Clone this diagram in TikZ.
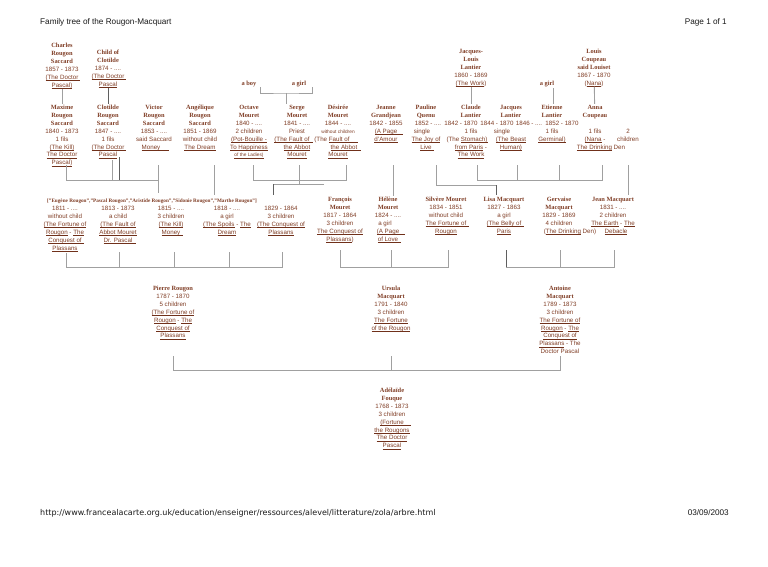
\documentclass[tikz,border=0pt]{standalone}
\usepackage{fontspec}
\setmainfont{Liberation Serif}
\setsansfont{Liberation Sans}
\newfontfamily\urlfont{DejaVu Sans}
\definecolor{tb}{RGB}{128,62,38}
\definecolor{ub}{RGB}{112,48,26}
\definecolor{lg}{RGB}{160,160,160}
\definecolor{dg}{RGB}{95,95,95}
\definecolor{hd}{RGB}{25,25,25}
\newcommand\nmx[1]{{\fontsize{6.4}{7.9}\selectfont\rmfamily\bfseries #1}}
\newcommand\smx[1]{{\fontsize{4.8}{7.9}\selectfont #1}}
\newcommand\ulx[2][0pt]{\setbox0=\hbox{#2}\rlap{\textcolor{ub}{\rule[-1.4pt]{\dimexpr\wd0+#1\relax}{0.6pt}}}\box0\relax}
\newcommand\shx[2]{\makebox[0pt][c]{\hspace*{#1}#2\hspace*{-#1}}}
\newcommand\stx{\rule{0pt}{5.5pt}}
\begin{document}
\begin{tikzpicture}[x=1pt,y=-1pt,
  p/.style={anchor=north,align=center,inner sep=0pt,text=tb,font=\fontsize{6.2}{7.9}\selectfont\sffamily},
  hdr/.style={inner sep=0pt,text=hd,font=\fontsize{8.2}{10}\selectfont\sffamily},
  ln/.style={draw=lg,line width=0.9pt},
  lnd/.style={draw=dg,line width=0.9pt}]
\useasboundingbox[fill=white] (0,0) rectangle (768,566);

% header / footer
\node[hdr,anchor=west] (title) at (40,22) {Family tree of the Rougon-Macquart};
\node[hdr,anchor=east] (page) at (727,22) {Page 1 of 1};
\node[hdr,anchor=west,font=\fontsize{8}{10}\selectfont\urlfont] (url) at (40,513) {http://www.francealacarte.org.uk/education/enseigner/ressources/alevel/litterature/zola/arbre.html};
\node[hdr,anchor=east] (date) at (729,513) {03/09/2003};

% row 1
\node[p] (charles) at (62,41.8) {\stx\nmx{Charles}\\\nmx{Rougon}\\\nmx{Saccard}\\1857 - 1873\\\ulx[2pt]{(The Doctor}\\\ulx{Pascal)}};
\node[p] (child) at (108,48.8) {\stx\nmx{Child of}\\\nmx{Clotilde}\\1874 - ....\\\ulx[2pt]{(The Doctor}\\\ulx{Pascal}};
\node[p] (aboy) at (249,79.8) {\stx\nmx{a boy}};
\node[p] (agirla) at (299,79.8) {\stx\nmx{a girl}};
\node[p] (jl) at (471,47.8) {\stx\nmx{Jacques-}\\\nmx{Louis}\\\nmx{Lantier}\\1860 - 1869\\\ulx{(The Work})};
\node[p] (agirlb) at (547,79.8) {\stx\nmx{a girl}};
\node[p] (louis) at (594,47.8) {\stx\nmx{Louis}\\\nmx{Coupeau}\\\nmx{said Louiset}\\1867 - 1870\\(\ulx{Nana})};

% row 2
\node[p] (maxime) at (62,103.8) {\stx\nmx{Maxime}\\\nmx{Rougon}\\\nmx{Saccard}\\1840 - 1873\\1 fils\\\ulx{(The Kill)}\\\ulx{The Doctor}\\\ulx{Pascal)}};
\node[p] (clotilde) at (108,103.8) {\stx\nmx{Clotilde}\\\nmx{Rougon}\\\nmx{Saccard}\\1847 - ....\\1 fils\\\ulx[2pt]{(The Doctor}\\\ulx{Pascal}};
\node[p] (victor) at (154,103.8) {\stx\nmx{Victor}\\\nmx{Rougon}\\\nmx{Saccard}\\1853 - ....\\said Saccard\\\shx{-3pt}{\ulx[9pt]{Money}}};
\node[p] (angelique) at (200,103.8) {\stx\nmx{Angélique}\\\nmx{Rougon}\\\nmx{Saccard}\\1851 - 1869\\without child\\\ulx{The Dream}};
\node[p] (octave) at (249,103.8) {\stx\nmx{Octave}\\\nmx{Mouret}\\1840 - ....\\2 children\\\ulx{(Pot-Bouille -}\\\ulx{To Happiness}\\\ulx{\smx{of the Ladies)}}};
\node[p] (serge) at (297,103.8) {\stx\nmx{Serge}\\\nmx{Mouret}\\1841 - ....\\Priest\\\shx{-5pt}{\ulx[3pt]{(The Fault of}}\\\ulx{the Abbot}\\\ulx{Mouret}};
\node[p] (desiree) at (338,103.8) {\stx\nmx{Désirée}\\\nmx{Mouret}\\1844 - ....\\\smx{without children}\\\shx{-6pt}{(The \ulx[8pt]{Fault of}}\\\shx{6pt}{\ulx[4pt]{the Abbot}}\\\ulx{Mouret}};
\node[p] (jeanne) at (386,103.8) {\stx\nmx{Jeanne}\\\nmx{Grandjean}\\1842 - 1855\\\ulx[6pt]{(A Page}\\\ulx{d'Amour}};
\node[p] (pauline) at (426,103.8) {\stx\nmx{Pauline}\\\nmx{Quenu}\\\shx{2pt}{1852 - ....}\\\shx{-4pt}{single}\\\ulx{The Joy of}\\\ulx[2pt]{Live}};
\node[p] (claude) at (471,103.8) {\stx\nmx{Claude}\\\nmx{Lantier}\\\shx{-10pt}{1842 - 1870}\\1 fils\\\shx{-4pt}{(The \ulx{Stomach)}}\\\ulx{from Paris} -\\\ulx{The Work}};
\node[p] (jacques) at (511,103.8) {\stx\nmx{Jacques}\\\nmx{Lantier}\\\shx{-14pt}{1844 - 1870}\\\shx{-9pt}{single}\\\ulx{(The Beast}\\\ulx{Human)}};
\node[p] (etienne) at (552,103.8) {\stx\nmx{Etienne}\\\nmx{Lantier}\\\shx{-23pt}{1846 - ....}\\1 fils\\\ulx{Germinal)}};
\node[p] (anna) at (595,103.8) {\stx\nmx{Anna}\\\nmx{Coupeau}\\\shx{-33pt}{1852 - 1870}\\1 fils\\\ulx{(Nana} -\\\shx{6pt}{\ulx{The Drinking} Den}};
\node[p] (twoch) at (628,127.8) {\stx 2\\children};

% row 3
\node[p,font=\fontsize{5.2}{7}\selectfont\rmfamily\bfseries] (eugene) at (152,196.8) {\stx["Eugène Rougon","Pascal Rougon","Aristide Rougon","Sidonie Rougon","Marthe Rougon"]};
\node[p] (eugA) at (65,204.8) {\stx 1811 - ....\\without child\\\ulx{(The Fortune of}\\\ulx{Rougon} - \ulx{The}\\\ulx[2pt]{Conquest of}\\\ulx{Plassans}};
\node[p] (eugB) at (118,204.8) {\stx 1813 - 1873\\a child\\\ulx{(The Fault of}\\\ulx{Abbot Mouret}\\\ulx[4pt]{Dr. Pascal}};
\node[p] (eugC) at (171,204.8) {\stx 1815 - ....\\3 children\\\ulx{(The Kill)}\\\ulx[3pt]{Money}};
\node[p] (eugD) at (227,204.8) {\stx 1818 - ....\\a girl\\\ulx{(The Spoils} - \ulx{The}\\\ulx{Dream}};
\node[p] (eugE) at (281,204.8) {\stx 1829 - 1864\\3 children\\\ulx{(The Conquest of}\\\ulx{Plassans}};
\node[p] (francois) at (340,195.8) {\stx\nmx{François}\\\nmx{Mouret}\\1817 - 1864\\3 children\\\ulx{The Conquest of}\\\ulx{Plassans})};
\node[p] (helene) at (388,195.8) {\stx\nmx{Hélène}\\\nmx{Mouret}\\1824 - ....\\\shx{-3pt}{a girl}\\\ulx[6pt]{(A Page}\\\ulx[3pt]{of Love}};
\node[p] (silvere) at (446,195.8) {\stx\nmx{Silvère Mouret}\\1834 - 1851\\without child\\\ulx[3pt]{The Fortune of}\\\ulx{Rougon}};
\node[p] (lisa) at (504,195.8) {\stx\nmx{Lisa Macquart}\\1827 - 1863\\a girl\\\ulx[3pt]{(The Belly of}\\\ulx{Paris}};
\node[p] (gervaise) at (559,195.8) {\stx\nmx{Gervaise}\\\nmx{Macquart}\\1829 - 1869\\4 children\\\shx{11pt}{(\ulx{The Drinking} Den)}};
\node[p] (jean) at (613,195.8) {\stx\nmx{Jean Macquart}\\1831 - ....\\2 children\\\ulx{The Earth} - \ulx{The}\\\shx{3pt}{\ulx{Debacle}}};

% row 4
\node[p] (pierre) at (173,284.8) {\stx\nmx{Pierre Rougon}\\1787 - 1870\\5 children\\\ulx{(The Fortune of}\\\ulx{Rougon} - \ulx{The}\\\ulx{Conquest of}\\\ulx{Plassans}};
\node[p] (ursula) at (391,284.8) {\stx\nmx{Ursula}\\\nmx{Macquart}\\1791 - 1840\\3 children\\\ulx{The Fortune}\\\ulx{of the Rougon}};
\node[p] (antoine) at (560,284.8) {\stx\nmx{Antoine}\\\nmx{Macquart}\\1789 - 1873\\3 children\\\ulx{The Fortune of}\\\ulx{Rougon} - \ulx{The}\\\ulx{Conquest of}\\\ulx{Plassans} - The\\Doctor Pascal};

% row 5
\node[p] (adelaide) at (392,386.8) {\stx\nmx{Adélaïde}\\\nmx{Fouque}\\1768 - 1873\\3 children\\\ulx[7pt]{(Fortune}\\\ulx{the Rougons}\\\ulx{The Doctor}\\\ulx{Pascal}};

% ---------- connectors ----------
% row 1 -> row 2
\draw[ln] (charles) -- (maxime);
\draw[lnd] (child) -- (clotilde);
\coordinate (bx1) at (260,87);
\coordinate (bx2) at (312,87);
\coordinate (bxm) at (286,93);
\draw[ln] (bx1) |- (bxm) -| (bx2);
\draw[ln] (bxm) -- (bxm |- serge.north);
\draw[ln] (jl) -- (claude);
\coordinate (agb) at (553,88);
\draw[ln] (agb) -- (agb |- etienne.north);
\draw[ln] (louis) -- (anna);

% row 2 -> row 3
\coordinate (maxD) at (66,165);
\coordinate (cloD) at (112,160);
\coordinate (cloD2) at (119,157);
\coordinate (vicD) at (158,165);
\coordinate (angD) at (214,165);
\coordinate (octD) at (253,165);
\coordinate (serD) at (299,165);
\coordinate (desD) at (346,165);
\coordinate (jeaD) at (393,165);
\coordinate (pauD) at (436,165);
\coordinate (claD) at (477,165);
\coordinate (jacD) at (517,165);
\coordinate (etiD) at (559,165);
\coordinate (annD) at (602,165);
\coordinate (twoD) at (628,165);
\coordinate (j1) at (158,180);
\coordinate (j2) at (346,180);
\coordinate (j3l) at (273,184);
\coordinate (j3r) at (324,184);
\coordinate (j4) at (496,185);
\coordinate (j5) at (602,180);
\coordinate (eugU) at (158,193);
\coordinate (angU) at (214,195);
\coordinate (eU) at (273,195);
\coordinate (helU) at (393,196);
\coordinate (lisU) at (496,195);
\coordinate (jeanU) at (628,195);

\draw[ln] (maxD) |- (j1);
\draw[ln] (cloD) -- (cloD |- j1);
\draw[lnd] (cloD2) -- (cloD2 |- j1);
\draw[ln] (vicD) -- (eugU);
\draw[ln] (angD) -- (angU);
\draw[ln] (octD) |- (j2) -- (desD);
\draw[ln] (serD) -- (serD |- j3l);
\draw[ln] (j3r) -- (j3l);
\draw[lnd] (j3l) -- (eU);
\draw[ln] (jeaD) -- (helU);
\draw[ln] (pauD) |- (j4);
\draw[lnd] (j4) -- (lisU);
\draw[ln] (claD) |- (j5) -- (annD);
\draw[ln] (jacD) -- (jacD |- j5);
\draw[ln] (etiD) -- (etiD |- j5);
\draw[ln] (twoD) -- (jeanU);

% row 3 brackets
\coordinate (aB) at (66,253);
\coordinate (bB) at (119,252);
\coordinate (cB) at (174,252);
\coordinate (dB) at (229,252);
\coordinate (eB) at (282,252);
\coordinate (k1) at (282,267);
\draw[ln] (aB) |- (k1) -- (eB);
\foreach \c in {bB,cB,dB} \draw[ln] (\c) -- (\c |- k1);
\coordinate (fB) at (340,250);
\coordinate (hB) at (391,250);
\coordinate (sB) at (448,250);
\coordinate (k2) at (448,267);
\draw[ln] (fB) |- (k2) -- (sB);
\draw[ln] (hB) -- (hB |- k2);
\coordinate (lB) at (506,250);
\coordinate (gB) at (560,250);
\coordinate (jB) at (614,250);
\coordinate (k3) at (614,267);
\draw[lnd] (lB) -- (lB |- k3);
\draw[ln] (lB |- k3) -- (k3) -- (jB);
\draw[ln] (gB) -- (gB |- k3);

% row 4 -> row 5
\coordinate (pD) at (173,356);
\coordinate (uD) at (391,356);
\coordinate (aD) at (560,356);
\coordinate (k4) at (560,370);
\draw[ln] (pD) |- (k4) -- (aD);
\draw[ln] (uD) -- (uD |- k4);
\end{tikzpicture}
\end{document}
